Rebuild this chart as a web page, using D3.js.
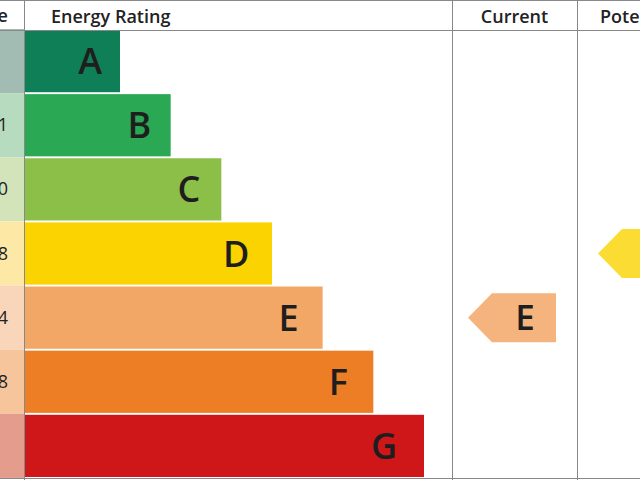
<!DOCTYPE html>
<html><head><meta charset="utf-8">
<script src="https://cdn.jsdelivr.net/npm/d3@7"></script>
<style>body{margin:0;background:#fff}svg{display:block}</style>
</head><body>
<script>
// ratings, score bands and colours
const ratings = ['A','B','C','D','E','F','G'];
const bands = ['92+','81-91','69-80','55-68','39-54','21-38','1-20'];
const barColors = ['#0e7f56','#2aa854','#8bbf48','#fad300','#f3a766','#ee7e26','#cf1719'];
const bandColors = ['#a3bcb3','#b7dbbf','#d3e4ba','#fde8a6','#f9d6b9','#f7c59c','#e49d8c'];
const current = 'E';
const potential = 'D';

const width = 640, height = 480;
const colScore = [-60, 24], colRating = [24, 452], colCurrent = [452, 577], colPotential = [577, 720];

const svg = d3.select('body').append('svg').attr('width', width).attr('height', height)
  .style('font-family', '"Open Sans", sans-serif');

const y = d3.scaleBand().domain(ratings).range([30, 477]).paddingInner(0.03);
const w = d3.scaleLinear().domain([1, 7]).range([120, 424]);
const color = d3.scaleOrdinal(ratings, barColors);

// header text
svg.append('text').attr('x', 8).attr('y', 22).attr('text-anchor', 'end')
  .attr('font-size', 18).attr('font-weight', 600).attr('fill', '#222').text('Score');
svg.append('text').attr('x', 51).attr('y', 23)
  .attr('font-size', 18).attr('font-weight', 600).attr('fill', '#222').text('Energy Rating');
svg.append('text').attr('x', d3.mean(colCurrent)).attr('y', 23).attr('text-anchor', 'middle')
  .attr('font-size', 18).attr('font-weight', 600).attr('fill', '#222').text('Current');
svg.append('text').attr('x', 600).attr('y', 23)
  .attr('font-size', 18).attr('font-weight', 600).attr('fill', '#222').text('Potential');

// score column cells
svg.selectAll('rect.band').data(ratings).join('rect').attr('class', 'band')
  .attr('x', colScore[0]).attr('width', colScore[1] - colScore[0])
  .attr('y', d => y(d) - 1).attr('height', y.step())
  .attr('fill', (d, i) => bandColors[i]);
svg.selectAll('text.band').data(ratings).join('text').attr('class', 'band')
  .attr('x', (d, i) => (i === 0 || i === 6) ? -2 : 8)
  .attr('y', d => y(d) + y.bandwidth() / 2 + 6).attr('text-anchor', 'end')
  .attr('font-size', 18).attr('fill', '#222').text((d, i) => bands[i]);

// bars
svg.selectAll('rect.bar').data(ratings).join('rect').attr('class', 'bar')
  .attr('x', colRating[0]).attr('y', d => y(d))
  .attr('width', (d, i) => w(i + 1) - colRating[0]).attr('height', y.bandwidth())
  .attr('fill', d => color(d));
svg.selectAll('text.bar').data(ratings).join('text').attr('class', 'bar')
  .attr('x', (d, i) => w(i + 1) - 18 - i * 1.5).attr('y', d => y(d) + y.bandwidth() / 2 + 13)
  .attr('text-anchor', 'end').attr('font-size', 36).attr('font-weight', 600)
  .attr('fill', '#1e1e1e').text(d => d);

// arrows
function arrow(x0, r, len, label) {
  const h = 49, top = y(r) + (y.bandwidth() - h) / 2;
  const g = svg.append('g');
  g.append('path')
    .attr('d', `M${x0},${top + h / 2}L${x0 + 24},${top}H${x0 + len}V${top + h}H${x0 + 24}Z`)
    .attr('fill', color(r)).attr('opacity', r === 'D' ? 0.8 : 0.85);
  g.append('text').attr('x', x0 + 57).attr('y', top + h / 2 + 12).attr('text-anchor', 'middle')
    .attr('font-size', 35).attr('font-weight', 600).attr('fill', '#1e1e1e').text(label);
}
arrow(468, current, 88, current);
arrow(598, potential, 88, potential);

// grid lines
const line = (x1, y1, x2, y2) => svg.append('line').attr('x1', x1).attr('y1', y1).attr('x2', x2).attr('y2', y2)
  .attr('stroke', '#888').attr('stroke-width', 1);
line(0, 0.5, width, 0.5);
line(0, 30.5, width, 30.5);
line(0, 478.5, width, 478.5);
[colRating[0], colCurrent[0], colPotential[0]].forEach(x => line(x + 0.5, 0, x + 0.5, 480));
</script>
</body></html>
